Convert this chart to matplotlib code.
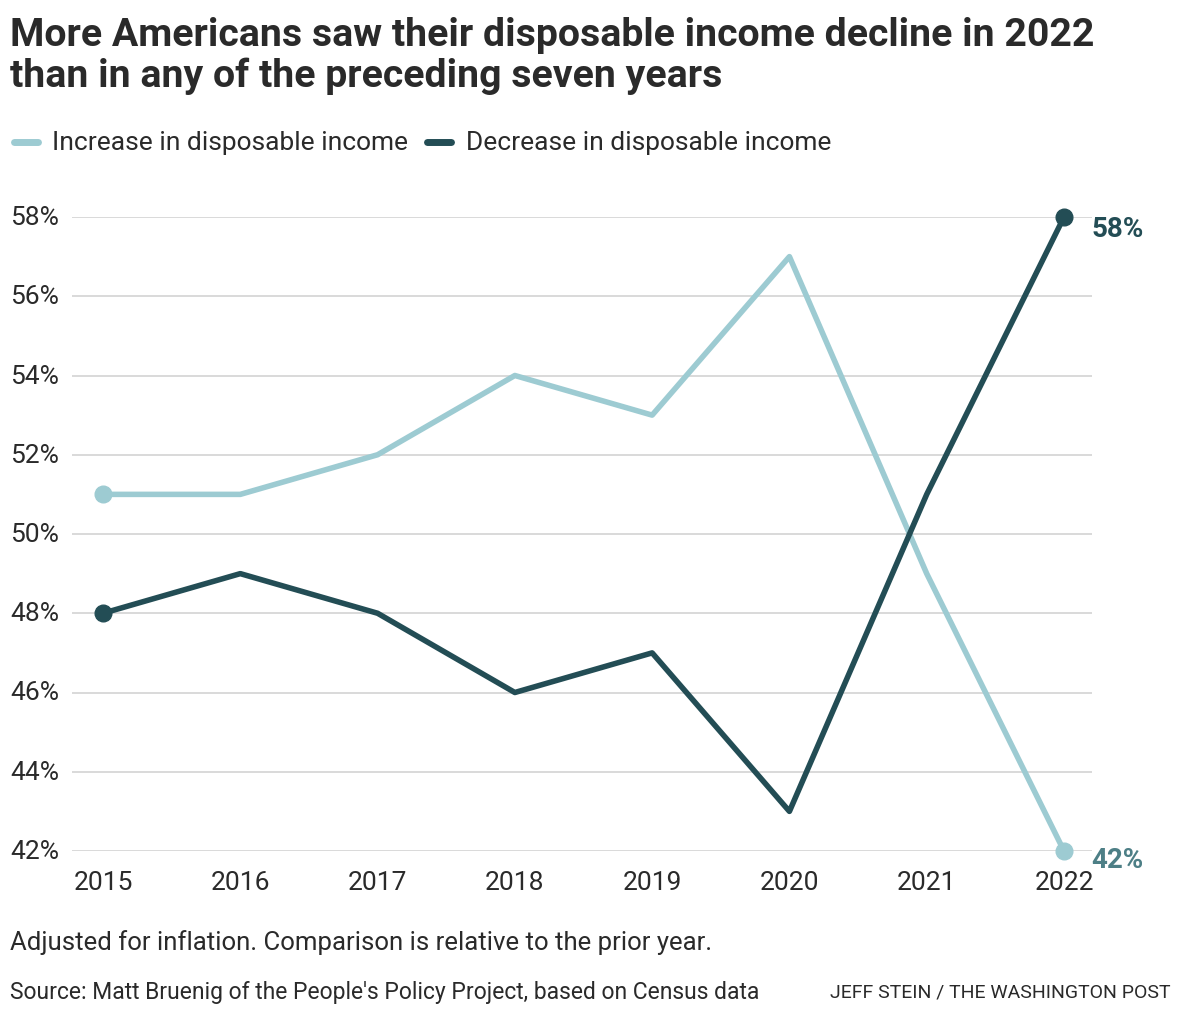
import matplotlib
matplotlib.use("Agg")
import matplotlib.pyplot as plt

years = [2015, 2016, 2017, 2018, 2019, 2020, 2021, 2022]
increase = [51, 51, 52, 54, 53, 57, 49, 42]
decrease = [48, 49, 48, 46, 47, 43, 51, 58]
yticks = [42, 44, 46, 48, 50, 52, 54, 56, 58]

title = ("More Americans saw their disposable income decline in 2022\n"
         "than in any of the preceding seven years")
label_inc = "Increase in disposable income"
label_dec = "Decrease in disposable income"
note = "Adjusted for inflation. Comparison is relative to the prior year."
source = "Source: Matt Bruenig of the People's Policy Project, based on Census data"
credit = "JEFF STEIN / THE WASHINGTON POST"

LIGHT = "#9dcbd2"
DARK = "#234d55"
MID = "#4d7f86"
TEXT = "#2a2a2a"
GRID = "#d9d9d9"

plt.rcParams["font.family"] = ["Roboto", "DejaVu Sans"]

W, H = 1180, 1020
fig = plt.figure(figsize=(W / 100, H / 100), dpi=100)

# axes placed in pixel terms
left, right, top, bottom = 72, 1092, 218, 852
ax = fig.add_axes([left / W, 1 - bottom / H, (right - left) / W, (bottom - top) / H])

px_per_year = (1064 - 103) / 7
ax.set_xlim(2015 - (103 - left) / px_per_year, 2022 + (right - 1064) / px_per_year)
ax.set_ylim(42, 58)

for y in yticks:
    ax.axhline(y, color=GRID, lw=1.4, zorder=0)

ax.plot(years, increase, color=LIGHT, lw=4, solid_capstyle="round", zorder=3, clip_on=False)
ax.plot(years, decrease, color=DARK, lw=4, solid_capstyle="round", zorder=3, clip_on=False)
for series, c in [(increase, LIGHT), (decrease, DARK)]:
    ax.plot([years[0], years[-1]], [series[0], series[-1]], "o", color=c, ms=12,
            zorder=4, clip_on=False)

ax.text(2022.2, decrease[-1] - 0.28, f"{decrease[-1]}%", color=DARK, fontsize=20,
        fontweight="bold", ha="left", va="center")
ax.text(2022.2, increase[-1] - 0.22, f"{increase[-1]}%", color=MID, fontsize=20,
        fontweight="bold", ha="left", va="center")

for s in ax.spines.values():
    s.set_visible(False)
ax.set_yticks([])
ax.set_xticks(years)
ax.set_xticklabels([str(y) for y in years])
ax.tick_params(axis="x", length=0, pad=14, labelsize=19, labelcolor=TEXT)

for y in yticks:
    fig.text(10 / W, 1 - (top + (58 - y) * (bottom - top) / 16) / H, f"{y}%",
             ha="left", va="center", fontsize=19, color=TEXT)

fig.text(10 / W, 1 - 17 / H, title, ha="left", va="top", fontsize=28.3,
         fontweight="bold", color=TEXT, linespacing=1.12)

# legend
ly = 1 - 143 / H
fig.add_artist(plt.Line2D([14 / W, 38 / W], [ly, ly], color=LIGHT, lw=5, solid_capstyle="round"))
fig.text(52 / W, ly, label_inc, ha="left", va="center", fontsize=19, color=TEXT)
fig.add_artist(plt.Line2D([427 / W, 451 / W], [ly, ly], color=DARK, lw=5, solid_capstyle="round"))
fig.text(466 / W, ly, label_dec, ha="left", va="center", fontsize=19, color=TEXT)

fig.text(10 / W, 1 - 943 / H, note, ha="left", va="center", fontsize=18.5, color=TEXT)
fig.text(10 / W, 1 - 993 / H, source, ha="left", va="center", fontsize=16.5, color=TEXT)
fig.text(1170 / W, 1 - 993 / H, credit, ha="right", va="center", fontsize=14, color=TEXT)

fig.savefig("out.png", dpi=100, facecolor="white")
